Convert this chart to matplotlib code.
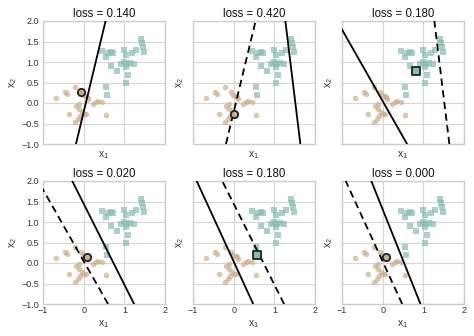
import numpy as np
import matplotlib
matplotlib.use("Agg")
import matplotlib.pyplot as plt

plt.style.use('seaborn-v0_8-whitegrid')
plt.rcParams['font.family'] = ['Liberation Sans', 'DejaVu Sans']
plt.rcParams['mathtext.default'] = 'regular'

# class -1 (circles)
circ_x = [-0.68, -0.47, -0.42, -0.21, -0.07, 0.06, -0.19, -0.12, -0.37, -0.11, -0.04,
          -0.09, -0.21, 0.06, 0.22, 0.30, 0.36, 0.46, 0.54, 0.02, -0.15, 0.07, 0.10, -0.02]
circ_y = [0.12, 0.27, 0.22, 0.39, 0.27, 0.16, -0.08, -0.03, -0.26, -0.14, -0.22,
          -0.32, -0.46, -0.26, -0.02, 0.03, 0.06, 0.02, -0.30, -0.26, -0.38, 0.15, 0.10, 0.20]
# class +1 (squares)
sq_x = [0.45, 0.54, 0.60, 0.67, 0.73, 0.68, 0.81, 0.93, 1.00, 1.05, 1.19, 1.28, 1.41,
        1.44, 1.47, 1.49, 1.00, 1.06, 1.14, 1.24, 1.03, 1.09, 1.03, 0.56, 0.58]
sq_y = [1.26, 1.12, 1.23, 1.24, 1.22, 0.90, 0.79, 0.96, 1.29, 1.18, 1.23, 1.30, 1.55,
        1.47, 1.37, 1.24, 1.00, 0.96, 0.98, 0.96, 0.88, 0.69, 0.50, 0.39, 0.20]

# decision boundaries w1*x1 + w2*x2 + b = 0, one per panel
w1 = [1.0, 1.0, 1.0, 1.0, 1.0, 1.0]
w2 = [-0.243, 0.123, 0.573, 0.507, 0.463, 0.403]
bias = [-0.053, -1.517, -0.0265, -0.733, -0.017, -0.527]
losses = [0.140, 0.420, 0.180, 0.020, 0.180, 0.000]
# highlighted sample per panel
hl_class = ['c', 'c', 's', 'c', 's', 'c']
hl_x = [-0.07, 0.02, 0.81, 0.07, 0.58, 0.07]
hl_y = [0.27, -0.26, 0.79, 0.15, 0.20, 0.15]

circ_col = '#c9b08c'
sq_col = '#86bdb2'

W, H = 474, 336
fig = plt.figure(figsize=(W / 100, H / 100), dpi=100)
lefts = [43, 193, 342]
tops = [21, 181]
aw, ah = 122, 123

yy = np.linspace(-1, 2, 50)
for k in range(6):
    r, c = divmod(k, 3)
    ax = fig.add_axes([lefts[c] / W, 1 - (tops[r] + ah) / H, aw / W, ah / H])
    ax.scatter(circ_x, circ_y, marker='o', s=16, color=circ_col, alpha=0.7, linewidths=0, zorder=2)
    ax.scatter(sq_x, sq_y, marker='s', s=15, color=sq_col, alpha=0.7, linewidths=0, zorder=2)
    mk = 'o' if hl_class[k] == 'c' else 's'
    fc = circ_col if hl_class[k] == 'c' else sq_col
    ax.scatter([hl_x[k]], [hl_y[k]], marker=mk, s=28, facecolor=fc, edgecolor='#222222',
               linewidths=1.3, zorder=4)
    xs = -(w2[k] * yy + bias[k]) / w1[k]
    ax.plot(xs, yy, color='black', lw=1.3, zorder=3)
    if k > 0:
        xp = -(w2[k - 1] * yy + bias[k - 1]) / w1[k - 1]
        ax.plot(xp, yy, color='black', lw=1.3, ls='--', dashes=(4, 2.5), zorder=3)
    ax.set_xlim(-1, 2)
    ax.set_ylim(-1, 2)
    ax.set_xticks([-1, 0, 1, 2])
    ax.set_yticks(np.arange(-1, 2.01, 0.5))
    ax.tick_params(labelsize=6.5, colors='#333333')
    ax.tick_params(axis='x', pad=1.5)
    ax.tick_params(axis='y', pad=2.8)
    if c != 0:
        ax.set_yticklabels([])
    if r != 1:
        ax.set_xticklabels([])
    for s in ax.spines.values():
        s.set_color('#cccccc')
    ax.grid(color='#d5d5d5', lw=0.8)
    ax.set_title('loss = %.3f' % losses[k], fontsize=8.3, pad=3, color='#111111')
    ax.set_xlabel('$x_1$', fontsize=7.5, color='#333333', labelpad=2)
    ax.set_ylabel('$x_2$', fontsize=7.5, color='#333333', labelpad=2)

fig.savefig('out.png', dpi=100)
